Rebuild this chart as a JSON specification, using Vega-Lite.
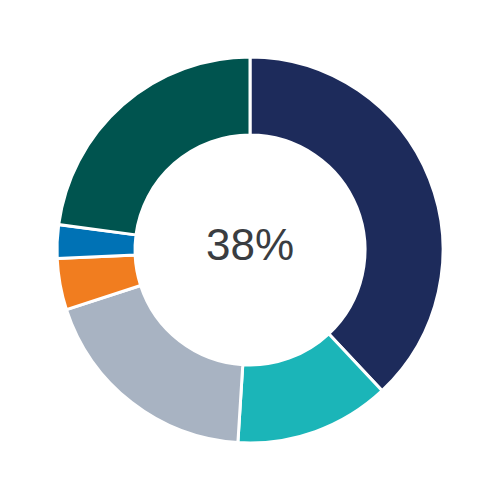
{
  "$schema": "https://vega.github.io/schema/vega-lite/v6.json",
  "width": 500,
  "height": 500,
  "autosize": {"type": "fit", "contains": "padding"},
  "padding": 0,
  "background": "white",
  "config": {"view": {"stroke": null}},
  "data": {
    "values": [
      {"segment": "A", "idx": 1, "value": 38},
      {"segment": "B", "idx": 2, "value": 13},
      {"segment": "C", "idx": 3, "value": 19},
      {"segment": "D", "idx": 4, "value": 4.3},
      {"segment": "E", "idx": 5, "value": 2.8},
      {"segment": "F", "idx": 6, "value": 22.9}
    ]
  },
  "layer": [
    {
      "mark": {"type": "arc", "outerRadius": 193, "innerRadius": 115, "stroke": "white", "strokeWidth": 3},
      "encoding": {
        "theta": {"field": "value", "type": "quantitative", "stack": true},
        "order": {"field": "idx", "type": "quantitative"},
        "color": {
          "field": "segment",
          "type": "nominal",
          "legend": null,
          "scale": {
            "domain": ["A", "B", "C", "D", "E", "F"],
            "range": ["#1d2b5b", "#1bb5b8", "#a8b3c2", "#f17d1f", "#0072b5", "#00544f"]
          }
        }
      }
    },
    {
      "data": {"values": [{"label": "38%"}]},
      "mark": {"type": "text", "font": "Liberation Sans", "fontSize": 44, "color": "#3a3d41", "align": "center", "baseline": "middle", "dy": -3},
      "encoding": {"text": {"field": "label", "type": "nominal"}}
    }
  ]
}
